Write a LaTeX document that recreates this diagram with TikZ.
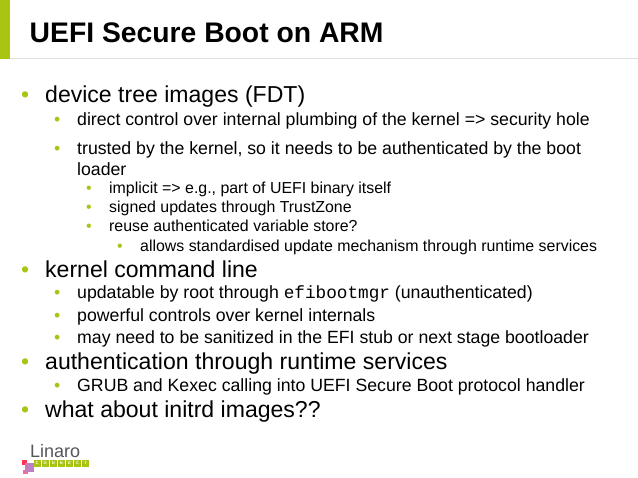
\documentclass[tikz,border=0pt]{standalone}
\usepackage{fontspec}
\setmainfont{Liberation Sans}
\newfontfamily\monofont{Liberation Mono}
\definecolor{lgreen}{HTML}{A9C413}
\definecolor{lgrey}{HTML}{55565A}
\tikzset{
  x=1pt,y=-1pt,
  txt/.style={anchor=base west,inner sep=0pt,text=black},
  bul/.style={anchor=base west,inner sep=0pt,text=lgreen},
  la/.style={txt,font=\fontsize{23.05}{25}\selectfont},
  lb/.style={txt,font=\fontsize{17.7}{20}\selectfont},
  lc/.style={txt,font=\fontsize{15.9}{18}\selectfont},
  ba/.style={bul,font=\fontsize{23}{25}\selectfont},
  bb/.style={bul,font=\fontsize{17.7}{20}\selectfont},
  bc/.style={bul,font=\fontsize{15.9}{18}\selectfont},
  cell/.style={fill=lgreen,minimum size=7pt,inner sep=0pt,text=white,font=\fontsize{4}{4}\selectfont\bfseries},
}
\begin{document}
\begin{tikzpicture}
\useasboundingbox (0,0) rectangle (638,478);
\fill[white] (0,0) rectangle (638,478);
\fill[lgreen] (0,0) rectangle (10,59);
\draw[black!12,line width=1pt] (10,59) -- (638,59);
\node[txt,font=\fontsize{28.3}{30}\selectfont\bfseries] (title) at (29.5,43) {UEFI Secure Boot on ARM};
\node[ba] (b1) at (21,102.7) {•};
\node[la] (t1) at (45,102.7) {device tree images (FDT)};
\node[bb] (b2) at (54,125.7) {•};
\node[lb] (t2) at (77,125.7) {direct control over internal plumbing of the kernel => security hole};
\node[bb] (b3) at (54,154.7) {•};
\node[lb] (t3) at (77,154.7) {trusted by the kernel, so it needs to be authenticated by the boot};
\node[lb] (t3b) at (77,175.7) {loader};
\node[bc] (b4) at (86,193.3) {•};
\node[lc] (t4) at (109,193.3) {implicit => e.g., part of UEFI binary itself};
\node[bc] (b5) at (86,212.3) {•};
\node[lc] (t5) at (109,212.3) {signed updates through TrustZone};
\node[bc] (b6) at (86,232) {•};
\node[lc] (t6) at (109,232) {reuse authenticated variable store?};
\node[bc] (b7) at (117,251.3) {•};
\node[lc] (t7) at (140,251.3) {allows standardised update mechanism through runtime services};
\node[ba] (b8) at (21,277.7) {•};
\node[la] (t8) at (45,277.7) {kernel command line};
\node[bb] (b9) at (54,298.7) {•};
\node[lb] (t9) at (77,298.7) {updatable by root through {\monofont efibootmgr} (unauthenticated)};
\node[bb] (b10) at (54,321.7) {•};
\node[lb] (t10) at (77,321.7) {powerful controls over kernel internals};
\node[bb] (b11) at (54,343.5) {•};
\node[lb] (t11) at (77,343.5) {may need to be sanitized in the EFI stub or next stage bootloader};
\node[ba] (b12) at (21,369.7) {•};
\node[la] (t12) at (45,369.7) {authentication through runtime services};
\node[bb] (b13) at (54,391.7) {•};
\node[lb] (t13) at (77,391.7) {GRUB and Kexec calling into UEFI Secure Boot protocol handler};
\node[ba] (b14) at (21,417.7) {•};
\node[la] (t14) at (45,417.7) {what about initrd images??};
% logo
\node[anchor=base west,inner sep=0pt,text=lgrey,font=\fontsize{18}{18}\selectfont] (logo) at (30,458) {Linaro};
\foreach \i/\c in {0/C,1/O,2/N,3/N,4/E,5/C,6/T}
  \node[cell] (c\i) at ({37+\i*8.1},463.5) {\c};
\fill[red!85!magenta,opacity=.8] (22,460) rectangle (27,465);
\fill[magenta!70!red,opacity=.6] (23,470) rectangle (28,474);
\fill[violet!50!white] (25,463) rectangle (34,472);
\end{tikzpicture}
\end{document}
